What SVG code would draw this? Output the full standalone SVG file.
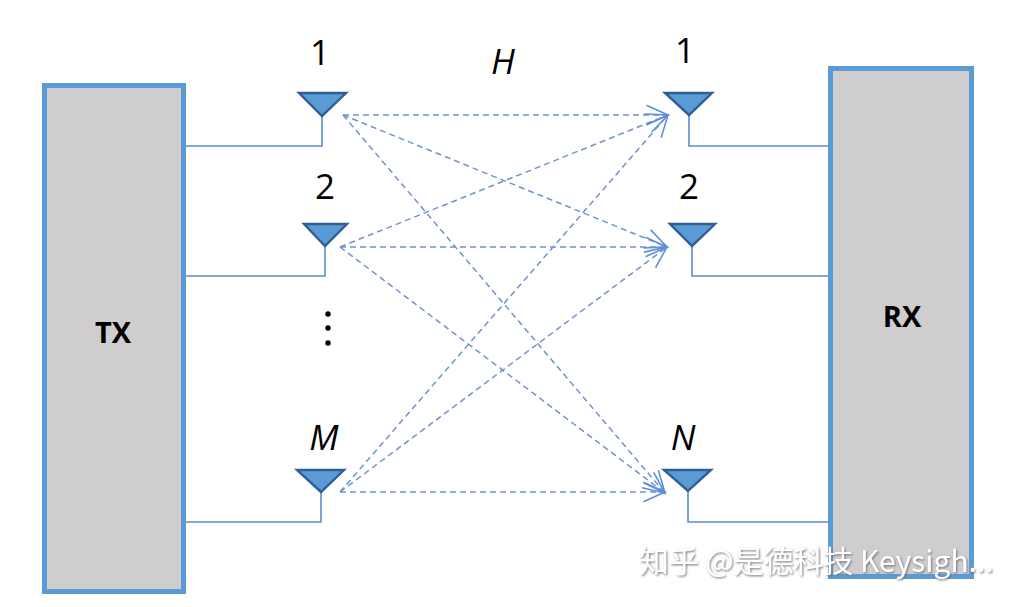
<svg xmlns="http://www.w3.org/2000/svg" width="1018" height="607" viewBox="0 0 1018 607">
<style>
.box{fill:#cfcdcd;stroke:#5b9bd5;stroke-width:5}
.ant{fill:#5b9bd5;stroke:#2f5f94;stroke-width:2.4;stroke-linejoin:miter}
.feed{fill:none;stroke:#5b8fc9;stroke-width:1.6}
.link{fill:none;stroke:#6f93cf;stroke-width:1.5;stroke-dasharray:6 4;marker-end:url(#open)}
text{font-family:"Open Sans","Noto Sans",sans-serif;fill:#000}
.num{font-size:35px;text-anchor:middle}
.it{font-size:35px;font-style:italic;text-anchor:middle}
.blk{font-size:29px;font-weight:700;text-anchor:middle;font-family:"Open Sans",sans-serif}
.wm{font-family:"Noto Sans CJK SC","Noto Sans",sans-serif;font-size:29.900px;fill:#fff;filter:url(#sh)}
</style>
<defs>
<marker id="open" markerUnits="userSpaceOnUse" markerWidth="28" markerHeight="28" refX="23" refY="12" orient="auto" viewBox="0 0 26 24">
<path d="M3 3 L23 12 L3 21" fill="none" stroke="#5f8fd8" stroke-width="1.5"/>
</marker>
<filter id="sh" x="-5%" y="-20%" width="110%" height="150%">
<feDropShadow dx="1" dy="1.200" stdDeviation="0.900" flood-color="#6e6e6e" flood-opacity="0.950"/>
</filter>
</defs>
<rect width="1018" height="607" fill="#fff"/>
<g id="connectors">
<path class="feed" d="M186 146H322V117"/>
<path class="feed" d="M186 276H325V247"/>
<path class="feed" d="M186 522H321V493"/>
<path class="feed" d="M828 146H689V116"/>
<path class="feed" d="M828 276H692V247"/>
<path class="feed" d="M828 522H688V492"/>
<path class="link" d="M343 115L668 115"/>
<path class="link" d="M343 115L667 247"/>
<path class="link" d="M343 115L665 493"/>
<path class="link" d="M340 247L668 115"/>
<path class="link" d="M340 247L667 247"/>
<path class="link" d="M340 247L665 493"/>
<path class="link" d="M340 492L668 115"/>
<path class="link" d="M340 492L667 247"/>
<path class="link" d="M340 492L665 492"/>
</g>
<g id="tx"><rect class="box" x="44.500" y="85.500" width="139" height="506"/><text class="blk" x="113" y="343">TX</text></g>
<g id="rx"><rect class="box" x="830.500" y="68.500" width="141" height="508"/><text class="blk" x="902" y="327">RX</text></g>
<g id="tx1"><path class="ant" d="M299 93H346L322 116Z"/><text class="num" x="320" y="65">1</text></g>
<g id="tx2"><path class="ant" d="M304 224H347L325 246Z"/><text class="num" x="325" y="199">2</text></g>
<g id="txm"><path class="ant" d="M297 470H344L321 492Z"/><text class="it" x="324" y="450">M</text></g>
<g id="rx1"><path class="ant" d="M665 93H712L689 115Z"/><text class="num" x="685" y="63">1</text></g>
<g id="rx2"><path class="ant" d="M670 224H715L692 246Z"/><text class="num" x="689" y="199">2</text></g>
<g id="rxn"><path class="ant" d="M664 470H711L688 491Z"/><text class="it" x="683" y="450">N</text></g>
<g id="channel"><text class="it" x="503" y="74">H</text></g>
<g id="dots" fill="#000"><circle cx="328" cy="314" r="2.700"/><circle cx="328" cy="328" r="2.700"/><circle cx="328" cy="343" r="2.700"/></g>
<g id="watermark"><text class="wm" x="639" y="572">知乎 @是德科技 Keysigh...</text></g>
</svg>
